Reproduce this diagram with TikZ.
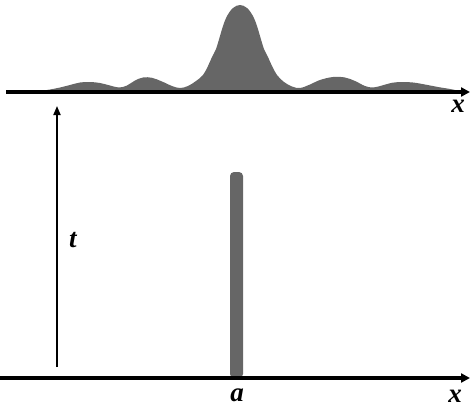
\documentclass[tikz,border=0pt]{standalone}
\usepackage{fontspec}
\setmainfont{Liberation Serif}
\usetikzlibrary{arrows.meta}
\definecolor{wavegray}{HTML}{666666}
\tikzset{
  axisline/.style={line width=3.6pt,-{Triangle[length=9pt,width=9pt]}},
  tarrow/.style={line width=1.8pt,-{Triangle[length=9pt,width=7pt]}},
  lbl/.style={font=\fontsize{27}{29}\selectfont\bfseries\itshape, inner sep=0pt},
  bar/.style={fill=wavegray, rounded corners=4pt}
}
\begin{document}
\begin{tikzpicture}[x=1pt,y=-1pt]
\useasboundingbox (0,0) rectangle (474,410);
% diffraction pattern
\fill[wavegray] plot[smooth, tension=0.6] coordinates {
 (40,91) (50,89.5) (60,87.5) (70,85) (80,82.5) (90,82) (100,83) (110,85.5) (119,87.5)
 (127,85.5) (135,80.5) (143,77.5) (152,77.8) (162,81.5) (172,86) (180,88)
 (188,86) (196,81) (203,75) (208,66) (212,57) (216,49) (220,36) (223,26) (227,16)
 (233,8) (240,5) (247,8) (253,16) (257,26) (260,36) (264,49) (268,57) (272,66)
 (277,75) (284,82) (292,86.5) (300,88) (310,84.5) (320,80) (333,77) (345,77.5)
 (355,81) (365,86) (373,87.5) (382,85.5) (392,82.8) (402,82) (413,82.5)
 (425,84.5) (438,87) (450,89) (460,91)} -- cycle;
% top axis
\coordinate (t0) at (6,92);
\coordinate (t1) at (470,92);
\draw[axisline] (t0) -- (t1);
\node[lbl] (xtop) at (458,106) {x};
% bottom axis and bar
\fill[bar] (230,378) rectangle (243,172);
\coordinate (b0) at (0,378);
\coordinate (b1) at (470,378);
\draw[axisline] (b0) -- (b1);
\node[lbl] (a) at (237,395) {a};
\node[lbl] (xbot) at (455,396) {x};
% time arrow
\coordinate (v0) at (57,367);
\coordinate (v1) at (57,106);
\draw[tarrow] (v0) -- (v1);
\node[lbl] (t) at (73,240) {t};
\end{tikzpicture}
\end{document}
